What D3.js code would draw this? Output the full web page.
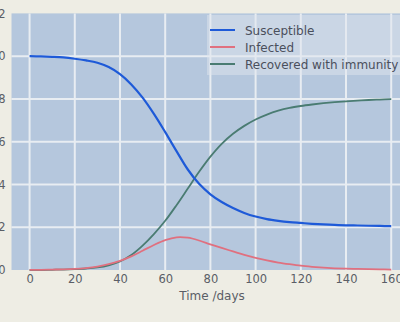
<!DOCTYPE html>
<html>
<head>
<meta charset="utf-8">
<script src="https://cdn.jsdelivr.net/npm/d3@7"></script>
<style>
  html, body { margin: 0; padding: 0; background: #eeede4; overflow: hidden; }
  svg { display: block; }
  text { font-family: "DejaVu Sans", sans-serif; }
</style>
</head>
<body>
<script>
// SIR model output: fraction of population by day
const days = [0,5,10,15,20,25,30,35,40,45,50,55,60,65,70,75,80,85,90,95,100,105,110,115,120,125,130,135,140,145,150,155,160];
const susceptible = [1.000,0.999,0.997,0.994,0.988,0.980,0.969,0.949,0.916,0.868,0.806,0.730,0.645,0.556,0.470,0.403,0.354,0.318,0.290,0.267,0.250,0.238,0.230,0.224,0.220,0.216,0.213,0.211,0.209,0.208,0.207,0.206,0.205];
const infected = [0.001,0.001,0.002,0.003,0.005,0.009,0.016,0.027,0.043,0.064,0.090,0.117,0.140,0.153,0.151,0.138,0.120,0.103,0.087,0.071,0.057,0.045,0.035,0.027,0.020,0.015,0.011,0.008,0.006,0.005,0.004,0.003,0.002];
const recovered = [0.000,0.000,0.001,0.002,0.004,0.007,0.012,0.022,0.040,0.070,0.114,0.168,0.230,0.303,0.381,0.459,0.530,0.590,0.637,0.674,0.704,0.727,0.745,0.758,0.767,0.774,0.780,0.785,0.789,0.792,0.795,0.797,0.799];

const seriesNames = ["Susceptible", "Infected", "Recovered with immunity"];
const seriesColors = ["#1e5ad8", "#e0707f", "#4a7c72"];
const xTicks = [0,20,40,60,80,100,120,140,160];
const yTicks = [0,0.2,0.4,0.6,0.8,1.0,1.2];
const xLabel = "Time /days";

const W = 400, H = 322;
const svg = d3.select("body").append("svg").attr("width", W).attr("height", H);

const x = d3.scaleLinear().domain([-8, 168]).range([11.5, 409.3]);
const y = d3.scaleLinear().domain([0, 1.2]).range([270, 13.4]);

// plot background
svg.append("rect")
  .attr("x", x(-8)).attr("y", y(1.2))
  .attr("width", x(168) - x(-8)).attr("height", y(0) - y(1.2))
  .attr("fill", "#b5c7dd");

// grid
const grid = svg.append("g").attr("stroke", "#f2f4f6").attr("stroke-width", 2).attr("opacity", 0.85);
grid.selectAll("line.v").data(xTicks).join("line")
  .attr("x1", d => x(d)).attr("x2", d => x(d))
  .attr("y1", y(1.2)).attr("y2", y(0));
grid.selectAll("line.h").data(yTicks.filter(d => d > 0 && d < 1.2)).join("line")
  .attr("x1", x(-8)).attr("x2", x(168))
  .attr("y1", d => y(d)).attr("y2", d => y(d));

// axes (labels only)
const xAxis = svg.append("g").attr("transform", `translate(0,${y(0)})`)
  .call(d3.axisBottom(x).tickValues(xTicks).tickSize(0).tickPadding(5).tickFormat(d3.format("d")));
xAxis.select(".domain").remove();
xAxis.selectAll("text").attr("fill", "#5a5e66").style("font-size", "11.5px");

const yAxis = svg.append("g").attr("transform", `translate(${x(-8)},0)`)
  .call(d3.axisLeft(y).tickValues(yTicks).tickSize(0).tickPadding(6).tickFormat(d3.format(".1f")));
yAxis.select(".domain").remove();
yAxis.selectAll("text").attr("fill", "#5a5e66").style("font-size", "11.5px");

svg.append("text")
  .attr("x", 212).attr("y", 300)
  .attr("text-anchor", "middle")
  .attr("fill", "#5a5e66")
  .style("font-size", "12px")
  .text(xLabel);

// curves
const line = d3.line().x((d, i) => x(days[i])).y(d => y(d)).curve(d3.curveCatmullRom);
const series = [susceptible, infected, recovered];
const widths = [2.2, 1.8, 1.8];
[2, 1, 0].forEach(k => {
  svg.append("path")
    .datum(series[k])
    .attr("fill", "none")
    .attr("stroke", seriesColors[k])
    .attr("stroke-width", widths[k])
    .attr("d", line);
});

// legend
const lg = svg.append("g").attr("transform", "translate(207,15)");
lg.append("rect").attr("x", 0).attr("y", 0).attr("width", 200).attr("height", 60)
  .attr("fill", "#dfe6ee").attr("opacity", 0.5);
seriesNames.forEach((name, i) => {
  const cy = 15 + i * 17;
  lg.append("line").attr("x1", 3).attr("x2", 28).attr("y1", cy).attr("y2", cy)
    .attr("stroke", seriesColors[i]).attr("stroke-width", 2);
  lg.append("text").attr("x", 38).attr("y", cy + 4.5)
    .attr("fill", "#4a4f5c").style("font-size", "12px").text(name);
});
</script>
</body>
</html>
